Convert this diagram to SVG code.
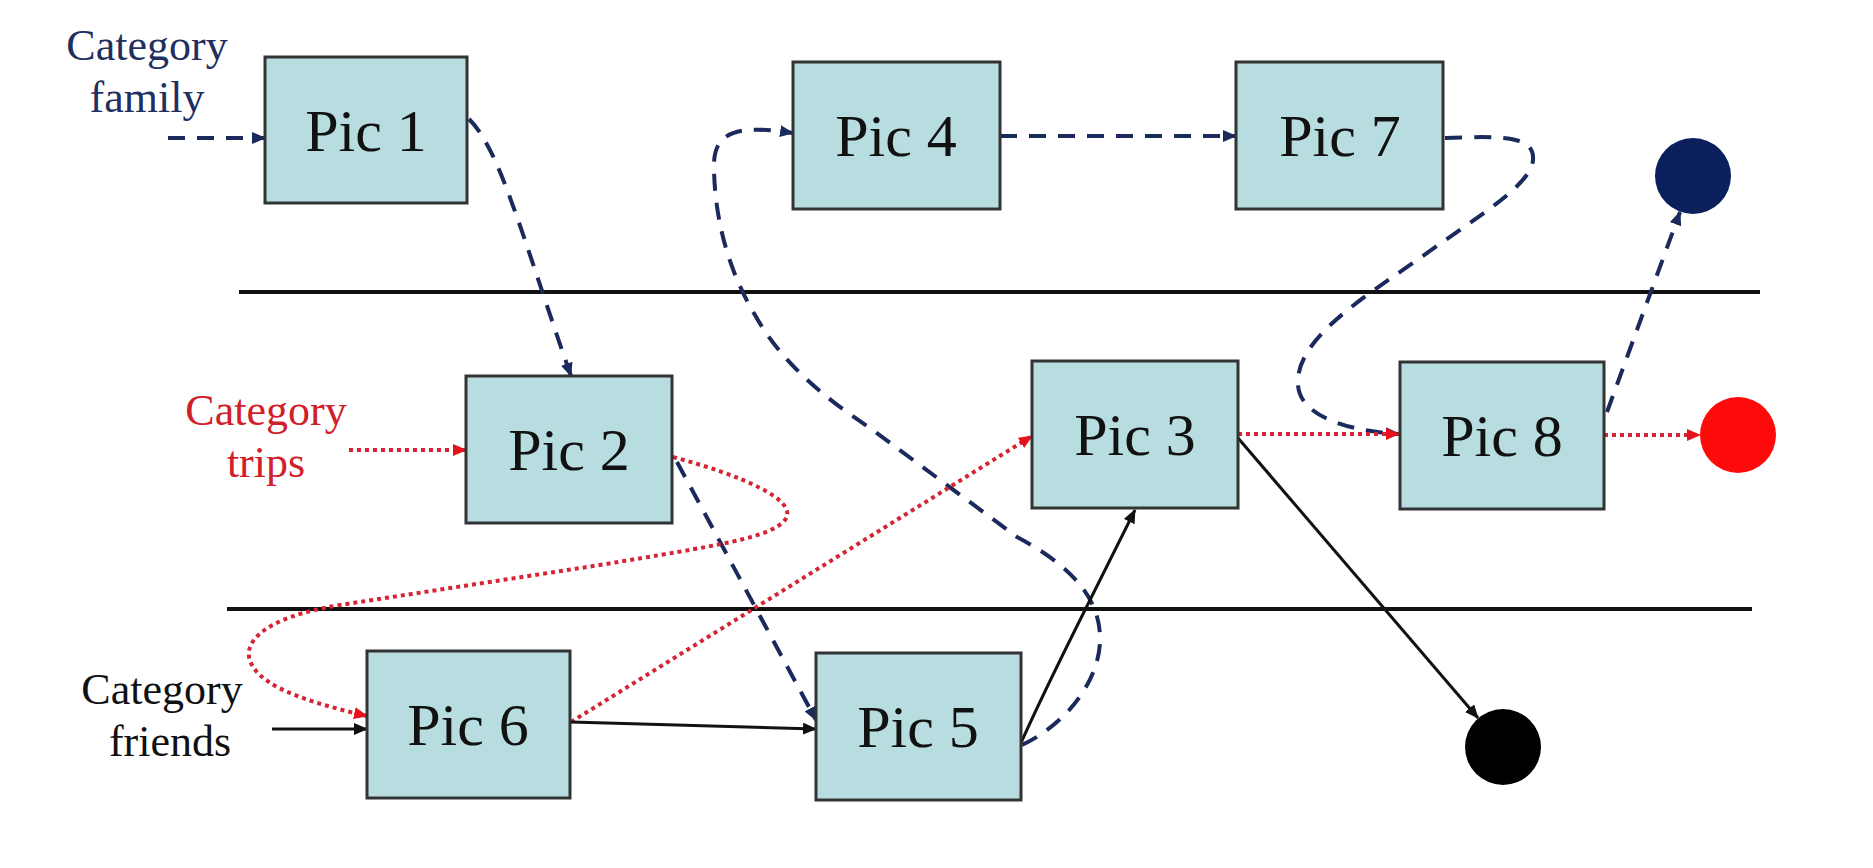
<svg xmlns="http://www.w3.org/2000/svg" width="1873" height="868" viewBox="0 0 1873 868">
<style>
.box{fill:#b8dde1;stroke:#333;stroke-width:3}
.pic{font-family:"Liberation Serif",serif;font-size:60px;fill:#111;text-anchor:middle}
.lab{font-family:"Liberation Serif",serif;font-size:44px;text-anchor:middle}
.nav{fill:none;stroke:#1b2a5c;stroke-width:4;stroke-dasharray:17 12}
.red{fill:none;stroke:#d42535;stroke-width:4;stroke-dasharray:4 4}
.blk{fill:none;stroke:#111;stroke-width:3}
.sep{stroke:#111;stroke-width:4}
</style>
<defs>
<marker id="an" markerUnits="userSpaceOnUse" markerWidth="14" markerHeight="12" refX="13" refY="6" orient="auto"><path d="M0,0 L14,6 L0,12 z" fill="#1b2a5c"/></marker>
<marker id="ar" markerUnits="userSpaceOnUse" markerWidth="14" markerHeight="12" refX="13" refY="6" orient="auto"><path d="M0,0 L14,6 L0,12 z" fill="#e8101a"/></marker>
<marker id="ab" markerUnits="userSpaceOnUse" markerWidth="14" markerHeight="12" refX="13" refY="6" orient="auto"><path d="M0,0 L14,6 L0,12 z" fill="#111"/></marker>
</defs>
<rect width="1873" height="868" fill="#fff"/>
<g id="separators">
<line class="sep" x1="239" y1="292" x2="1760" y2="292"/>
<line class="sep" x1="227" y1="609" x2="1752" y2="609"/>
</g>
<g id="labels">
<text class="lab" x="147" y="60" fill="#1f2f5f">Category</text>
<text class="lab" x="147" y="112" fill="#1f2f5f">family</text>
<text class="lab" x="266" y="425" fill="#d0202a">Category</text>
<text class="lab" x="266" y="477" fill="#d0202a">trips</text>
<text class="lab" x="162" y="704" fill="#111">Category</text>
<text class="lab" x="170" y="756" fill="#111">friends</text>
</g>
<g id="connectors">
<path class="nav" d="M168,138 L265,138" marker-end="url(#an)"/>
<path class="nav" d="M469,119 C500,150 520,230 571,376" marker-end="url(#an)"/>
<path class="nav" d="M1000,136 L1236,136" marker-end="url(#an)"/>
<path class="nav" d="M1445,138 C1500,136 1535,135 1533,160 C1531,185 1480,215 1420,258 C1360,300 1295,340 1298,385 C1300,420 1360,432 1399,434" marker-end="url(#an)"/>
<path class="nav" d="M1607,412 L1680,212" marker-end="url(#an)"/>
<path class="nav" d="M1022,745 C1065,725 1102,680 1100,635 C1098,590 1060,560 1017,537 L870,428 C820,395 780,360 755,315 C725,265 714,210 714,165 C714,130 740,125 793,133" marker-end="url(#an)"/>
<path class="nav" d="M677,462 L816,720" marker-end="url(#an)"/>
<path class="red" d="M349,450 L466,450" marker-end="url(#ar)"/>
<path class="red" d="M673,457 C740,475 800,500 785,520 C770,538 720,545 600,565 L340,605 C260,618 240,645 252,665 C265,690 320,705 367,716" marker-end="url(#ar)"/>
<path class="red" d="M571,722 L1032,436" marker-end="url(#ar)"/>
<path class="red" d="M1238,434 L1399,434" marker-end="url(#ar)"/>
<path class="red" d="M1604,435 L1700,435" marker-end="url(#ar)"/>
<path class="blk" d="M272,729 L367,729" marker-end="url(#ab)"/>
<path class="blk" d="M571,722 L816,729" marker-end="url(#ab)"/>
<path class="blk" d="M1021,743 C1040,700 1060,660 1085,610 C1105,570 1120,540 1135,510" marker-end="url(#ab)"/>
<path class="blk" d="M1238,438 L1478,718" marker-end="url(#ab)"/>
</g>
<g id="pic1"><rect class="box" x="265" y="57" width="202" height="146"/><text class="pic" x="366" y="151">Pic 1</text></g>
<g id="pic2"><rect class="box" x="466" y="376" width="206" height="147"/><text class="pic" x="569" y="470">Pic 2</text></g>
<g id="pic3"><rect class="box" x="1032" y="361" width="206" height="147"/><text class="pic" x="1135" y="455">Pic 3</text></g>
<g id="pic4"><rect class="box" x="793" y="62" width="207" height="147"/><text class="pic" x="896" y="156">Pic 4</text></g>
<g id="pic5"><rect class="box" x="816" y="653" width="205" height="147"/><text class="pic" x="918" y="747">Pic 5</text></g>
<g id="pic6"><rect class="box" x="367" y="651" width="203" height="147"/><text class="pic" x="468" y="745">Pic 6</text></g>
<g id="pic7"><rect class="box" x="1236" y="62" width="207" height="147"/><text class="pic" x="1340" y="156">Pic 7</text></g>
<g id="pic8"><rect class="box" x="1400" y="362" width="204" height="147"/><text class="pic" x="1502" y="456">Pic 8</text></g>
<g id="end-family"><circle cx="1693" cy="176" r="38" fill="#0a1f5c"/></g>
<g id="end-trips"><circle cx="1738" cy="435" r="38" fill="#ff0a0a"/></g>
<g id="end-friends"><circle cx="1503" cy="747" r="38" fill="#000"/></g>
</svg>
